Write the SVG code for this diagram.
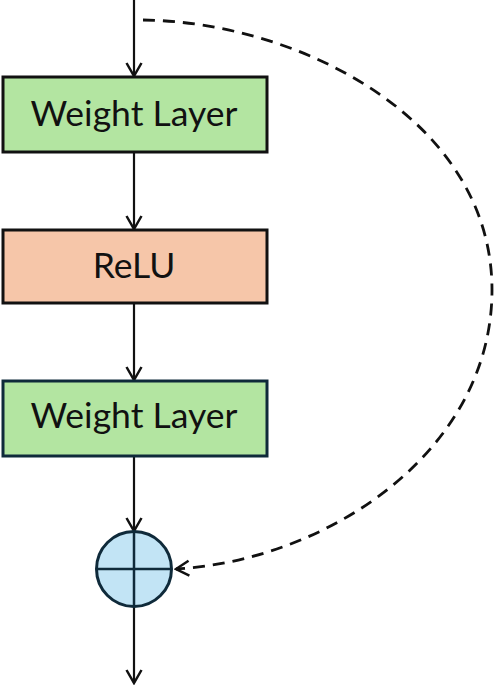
<svg xmlns="http://www.w3.org/2000/svg" width="494" height="685" viewBox="0 0 494 685">
<defs>
<style>
.box{stroke:#111;stroke-width:3}
.wl{fill:#b3e5a1}
.relu{fill:#f6c6a9}
.lbl{font-family:Lato,"Open Sans",sans-serif;font-size:35.5px;fill:#111;text-anchor:middle}
.conn{stroke:#111;stroke-width:2.2;fill:none}
.dash{stroke:#111;stroke-width:2.8;fill:none;stroke-dasharray:12 8}
</style>
<marker id="arr" viewBox="0 0 18 18" refX="16" refY="9" markerWidth="18" markerHeight="18" markerUnits="userSpaceOnUse" orient="auto">
<path d="M3,1.5 L16,9 L3,16.5" fill="none" stroke="#111" stroke-width="2.5"/>
</marker>
</defs>
<g id="connectors">
<line class="conn" x1="134" y1="0" x2="134" y2="76" marker-end="url(#arr)"/>
<line class="conn" x1="134" y1="153" x2="134" y2="229" marker-end="url(#arr)"/>
<line class="conn" x1="134" y1="304" x2="134" y2="380" marker-end="url(#arr)"/>
<line class="conn" x1="134" y1="457" x2="134" y2="531" marker-end="url(#arr)"/>
<line class="conn" x1="134" y1="607" x2="134" y2="683" marker-end="url(#arr)"/>
<path class="dash" d="M143,20 C300,22 492,120 492,290 C492,450 330,560 176,569" marker-end="url(#arr)"/>
</g>
<g id="weight1">
<rect class="box wl" x="3" y="77" width="264" height="75"/>
<text class="lbl" x="134" y="126">Weight Layer</text>
</g>
<g id="relu">
<rect class="box relu" x="3" y="230" width="264" height="73"/>
<text class="lbl" x="134" y="278">ReLU</text>
</g>
<g id="weight2">
<rect class="box wl" x="3" y="381" width="264" height="75" style="stroke:#0f2a3a"/>
<text class="lbl" x="134" y="428">Weight Layer</text>
</g>
<g id="sum">
<circle cx="134" cy="569" r="37.5" fill="#c2e4f5" stroke="#0f2a3a" stroke-width="3"/>
<line x1="134" y1="531.5" x2="134" y2="606.5" stroke="#0f2a3a" stroke-width="2.5"/>
<line x1="96.5" y1="569" x2="171.5" y2="569" stroke="#0f2a3a" stroke-width="2.5"/>
</g>
</svg>
